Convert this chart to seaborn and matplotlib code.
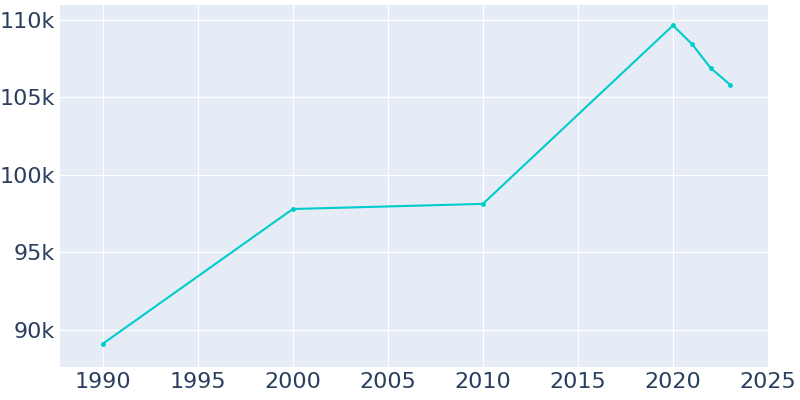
import matplotlib
matplotlib.use("Agg")
import matplotlib.pyplot as plt
import seaborn as sns
import pandas as pd
from matplotlib.ticker import FuncFormatter

years = [1990, 2000, 2010, 2020, 2021, 2022, 2023]
population = [89100, 97800, 98130, 109650, 108450, 106880, 105830]
xticks = [1990, 1995, 2000, 2005, 2010, 2015, 2020, 2025]
yticks = [90000, 95000, 100000, 105000, 110000]

sns.set_style("darkgrid", {"axes.facecolor": "#E5ECF6", "grid.color": "white"})
plt.rcParams['font.family'] = ['DejaVu Sans']
df = pd.DataFrame({"year": years, "pop": population})

fig = plt.figure(figsize=(8, 4), dpi=100)
ax = fig.add_axes([0.075, 0.0825, 0.885, 0.905])
sns.lineplot(data=df, x="year", y="pop", ax=ax, color="#00CCCC", linewidth=1.5,
             marker="o", markersize=3.5, markeredgewidth=0)
ax.set_xlim(1987.75, 2025)
ax.set_ylim(87600, 110970)
ax.set_xticks(xticks)
ax.set_yticks(yticks)
ax.yaxis.set_major_formatter(FuncFormatter(lambda v, p: f"{int(v/1000)}k"))
ax.set_xlabel("")
ax.set_ylabel("")
ax.tick_params(colors="#2a3f5f", labelsize=16, length=0)
for s in ax.spines.values():
    s.set_visible(False)
fig.savefig("out.png")
